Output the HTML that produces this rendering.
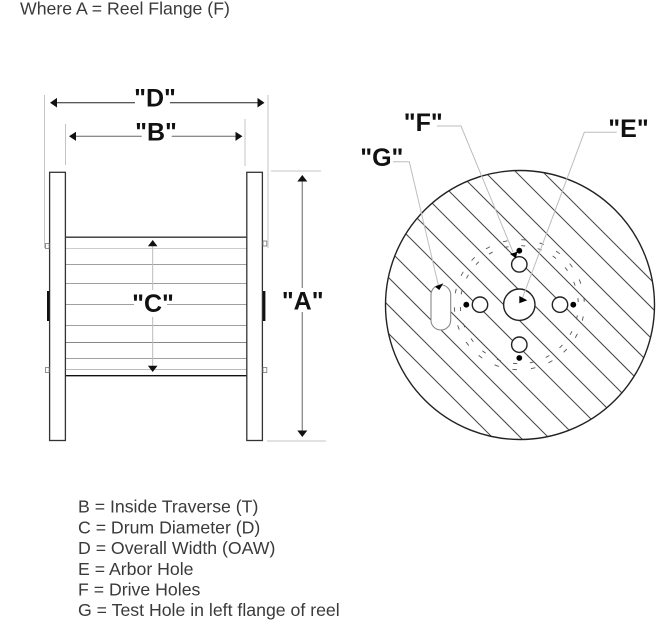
<!DOCTYPE html>
<html><head><meta charset="utf-8"><style>
html,body{margin:0;padding:0;background:#fff;width:670px;height:627px;overflow:hidden}
svg{display:block;filter:blur(0.35px)}
text{font-family:"Liberation Sans",sans-serif}
.l{font-size:17.7px;fill:#3a3a3a}
.b{font-size:25px;font-weight:bold;fill:#111;text-anchor:middle}
</style></head><body>
<svg width="670" height="627" viewBox="0 0 670 627" xmlns="http://www.w3.org/2000/svg">
<defs><clipPath id="c"><circle cx="520" cy="305" r="134.5"/></clipPath></defs>
<text class="l" x="20" y="14.5">Where A = Reel Flange (F)</text>
<text class="l" x="78" y="512.7">B = Inside Traverse (T)</text>
<text class="l" x="78" y="533.5">C = Drum Diameter (D)</text>
<text class="l" x="78" y="554.2">D = Overall Width (OAW)</text>
<text class="l" x="78" y="574.8">E = Arbor Hole</text>
<text class="l" x="78" y="595.4">F = Drive Holes</text>
<text class="l" x="78" y="616">G = Test Hole in left flange of reel</text>

<!-- extension lines -->
<g stroke="#c4c4c4" stroke-width="1" fill="none">
<path d="M44.5 95V248M268 95V248M65.5 124V165M245 119V166M271 171H321M267 441H326"/>
</g>
<!-- drum grey lines -->
<g stroke="#a0a0a0" stroke-width="1">
<path d="M65 248.5H247" stroke="#ccc"/><path d="M65 264.5H247"/><path d="M65 283.5H247"/>
<path d="M65 304.5H134M167 304.5H247"/><path d="M65 325.5H247"/>
<path d="M65 342.5H247" stroke="#888"/><path d="M65 358.5H247"/><path d="M65 369.5H247" stroke="#bbb"/>
</g>
<!-- drum edges -->
<path d="M65 237.2H247" stroke="#333" stroke-width="1.3"/>
<path d="M65 375.7H247" stroke="#111" stroke-width="1.3"/>
<!-- flanges -->
<g fill="#fff" stroke="#333" stroke-width="1.3">
<rect x="49.6" y="172.3" width="15.8" height="268.2"/>
<rect x="246.8" y="172.3" width="15.6" height="268.2"/>
</g>
<!-- small squares and bars -->
<g fill="#fff" stroke="#777" stroke-width="0.8">
<rect x="45.5" y="243.5" width="3.6" height="5"/><rect x="45.5" y="367.5" width="3.6" height="5"/>
<rect x="263" y="241" width="3.8" height="5"/><rect x="263" y="367.5" width="3.8" height="5"/>
</g>
<rect x="47" y="291" width="2.4" height="30" fill="#111"/>
<rect x="263" y="291" width="2.4" height="30" fill="#111"/>

<!-- D arrow -->
<path d="M56 102.7H135M170 102.7H258" stroke="#222" stroke-width="1"/>
<path d="M50 102.7l7-4.8v9.6zM264.5 102.7l-7-4.8v9.6z" fill="#111"/>
<!-- B arrow -->
<path d="M75 136.3H141.7M171.7 136.3H236" stroke="#666" stroke-width="1"/>
<path d="M69 136.3l7-4.6v9.2zM242.5 136.3l-7-4.6v9.2z" fill="#111"/>
<!-- A arrow -->
<path d="M302.3 180V288M302.3 312V431" stroke="#888" stroke-width="1.3"/>
<path d="M302.3 175l-5 6.5h10zM302.3 437l-5-6.5h10z" fill="#111"/>
<!-- C arrow -->
<path d="M152.7 246V290M152.7 317V366" stroke="#bbb" stroke-width="1"/>
<path d="M152.7 240l-4.8 6.3h9.6zM152.7 372l-4.8-6.3h9.6z" fill="#111"/>

<text class="b" x="155" y="106.7">"D"</text>
<text class="b" x="156" y="140.3">"B"</text>
<text class="b" x="153" y="312">"C"</text>
<text class="b" x="302.7" y="309.3">"A"</text>
<text class="b" x="423.3" y="130.9">"F"</text>
<text class="b" x="628.5" y="136.9">"E"</text>
<text class="b" x="381.8" y="166.2">"G"</text>

<!-- reel face -->
<g clip-path="url(#c)" stroke="#444" stroke-width="1">
<path d="M344 0L844 500M371 0L871 500M313 0L813 500M286 0L786 500M258 0L758 500M229 0L729 500M199 0L699 500M172 0L672 500M139 0L639 500M111 0L611 500M83 0L583 500M55 0L555 500"/>
</g>
<circle cx="520" cy="305" r="134.5" fill="none" stroke="#222" stroke-width="1.4"/>

<!-- dashed bolt circles -->
<g fill="none" stroke="#555" stroke-width="0.9">
<circle cx="519.3" cy="304.7" r="65" pathLength="360" stroke-dasharray="4 12.36" stroke-dashoffset="6"/>
<circle cx="519.3" cy="304.7" r="59" pathLength="360" stroke-dasharray="4 12.36" stroke-dashoffset="6"/>
</g>

<!-- holes -->
<rect x="431" y="285" width="19.7" height="45" rx="9.8" fill="#fff" stroke="#888" stroke-width="1.1"/>
<g fill="#fff" stroke="#222" stroke-width="1.4">
<circle cx="519.3" cy="304.7" r="15.7"/>
<circle cx="519.3" cy="264.4" r="7.7"/>
<circle cx="480" cy="304.7" r="7.7"/>
<circle cx="560" cy="304.7" r="7.7"/>
<circle cx="519.3" cy="344.7" r="7.7"/>
</g>

<!-- leaders -->
<g fill="none" stroke="#bdbdbd" stroke-width="1">
<path d="M437 126H461L513 252"/>
<path d="M616.7 132.3H584.3L521.7 300"/>
<path d="M393 161.7H409.3L438.3 285"/>
</g>

<g fill="#000">
<circle cx="519.3" cy="250.7" r="2.9"/>
<circle cx="466.3" cy="304.7" r="2.9"/>
<circle cx="573.3" cy="304.7" r="2.9"/>
<circle cx="519.3" cy="358" r="2.9"/>
<path d="M510 254L517.3 251.7L516 258.3Z"/>
<path d="M519.3 296L527.3 300.3L519.3 303.3Z"/>
<path d="M435 286.7L443.3 283.3L439.3 290Z"/>
</g>
</svg>
</body></html>
